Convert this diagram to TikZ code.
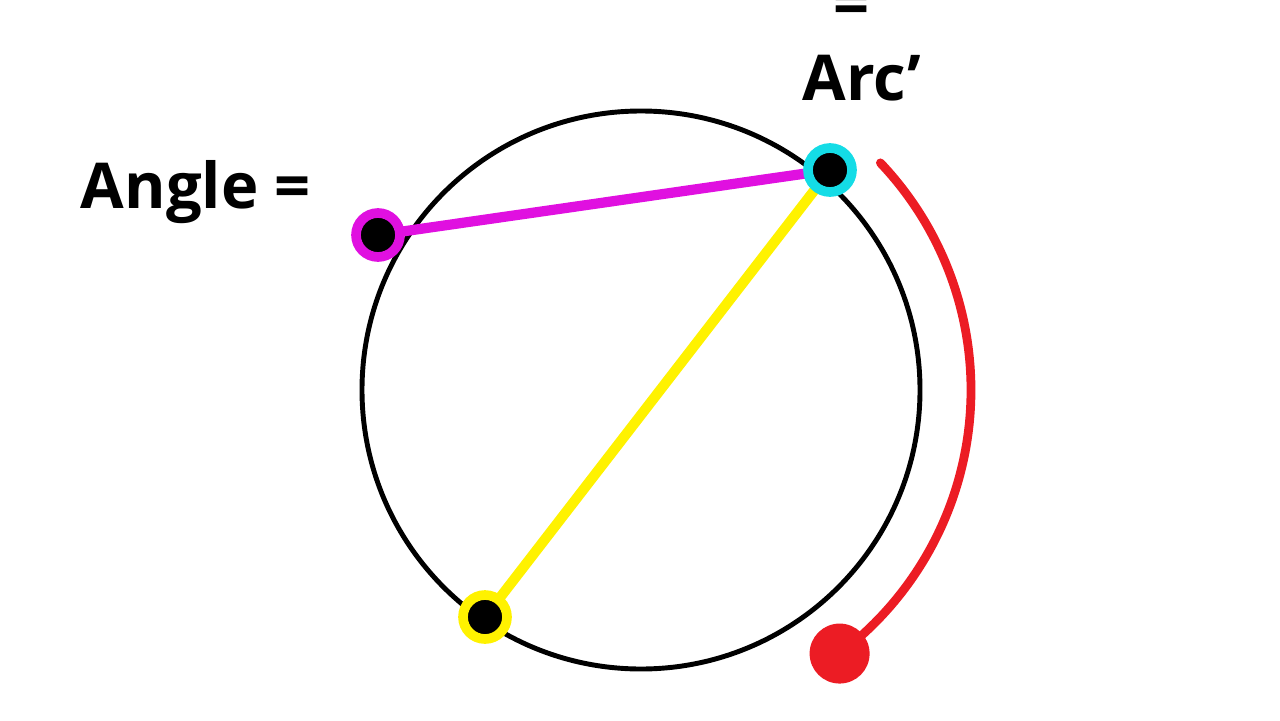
\documentclass[tikz,border=0pt]{standalone}
\usepackage{fontspec}
\setmainfont{Open Sans}
\usetikzlibrary{calc}
\definecolor{mag}{RGB}{224,16,224}
\definecolor{cy}{RGB}{20,220,230}
\definecolor{rd}{RGB}{236,28,36}
\begin{document}
\begin{tikzpicture}[x=0.02cm,y=-0.02cm,
  lab/.style={font=\bfseries\fontsize{36}{38}\selectfont,inner sep=0},
  ring/.style={circle,draw=#1,line width=5.5pt,fill=black,minimum size=44*0.02cm,inner sep=0}]
\useasboundingbox (0,0) rectangle (1280,720);
\coordinate (O) at (641,390);
\draw[line width=2.8pt] (O) circle[radius=279];
\draw[mag,line width=5.8pt] (378,235) -- (830,170);
\draw[yellow,line width=5.8pt] (485,617) -- (830,170);
\node[ring=mag] (m) at (378,235) {};
\node[ring=cy] (c) at (830,170) {};
\node[ring=yellow] (y) at (485,617) {};
\draw[rd,line width=5pt,line cap=round] ($(O)+(-43.5:330)$) coordinate (a) arc[start angle=-43.5,end angle=53,radius=330] coordinate (b);
\node[circle,fill=rd,minimum size=60*0.02cm,inner sep=0] (rdot) at (b) {};
\node[lab] (t1) at (196,192) {Angle =};
\node[lab] (t2) at (862,78) {Arc’};
\node[lab] (t3) at (852,10) {=};
\end{tikzpicture}
\end{document}
